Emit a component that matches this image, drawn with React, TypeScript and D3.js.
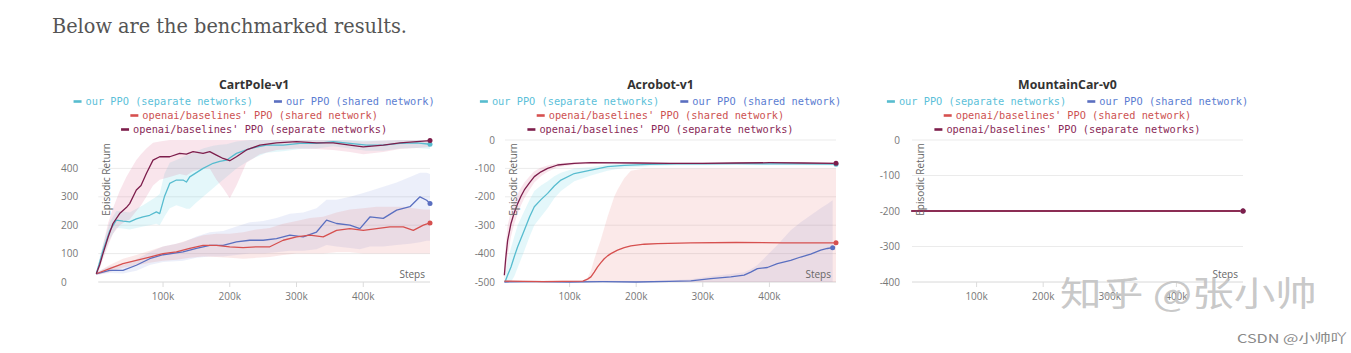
import React from "react";
import * as d3 from "d3";

// [step (k), mean, lower, upper]
type Pt = [number, number, number, number];

const legendLabels = [
  "our PPO (separate networks)",
  "our PPO (shared network)",
  "openai/baselines' PPO (shared network)",
  "openai/baselines' PPO (separate networks)",
];
const chartTitles = ["CartPole-v1", "Acrobot-v1", "MountainCar-v0"];
const xTicks = [100, 200, 300, 400];
const cartpoleYTicks = [0, 100, 200, 300, 400];
const acrobotYTicks = [0, -100, -200, -300, -400, -500];
const mountainYTicks = [0, -100, -200, -300, -400];

// ---------- CartPole-v1 ----------
const cpOurSep: Pt[] = [
  [0, 29, 25, 33], [5, 70, 55, 85], [10, 110, 90, 130], [20, 180, 150, 210], [30, 218, 190, 250],
  [40, 214, 188, 248], [50, 212, 185, 245], [60, 222, 190, 258], [70, 229, 195, 270], [80, 235, 200, 285],
  [90, 247, 205, 300], [95, 241, 200, 310], [102, 300, 230, 380], [110, 347, 260, 420], [120, 359, 270, 430],
  [130, 359, 262, 440], [135, 352, 258, 445], [140, 370, 258, 450], [150, 385, 280, 460], [160, 400, 300, 470],
  [175, 418, 330, 480], [185, 425, 350, 483], [195, 429, 370, 485], [210, 453, 400, 495], [230, 470, 430, 500],
  [255, 482, 455, 500], [280, 482, 460, 500], [305, 488, 468, 500], [330, 488, 470, 500], [355, 494, 478, 500],
  [380, 488, 470, 500], [405, 482, 462, 498], [430, 482, 462, 498], [455, 488, 470, 500], [480, 490, 472, 500],
  [500, 485, 468, 500],
];
const cpOurShared: Pt[] = [
  [0, 29, 25, 35], [20, 41, 32, 55], [40, 41, 30, 60], [60, 59, 40, 80], [80, 82, 60, 105],
  [100, 96, 70, 125], [130, 106, 75, 140], [150, 118, 85, 160], [170, 129, 90, 175], [190, 129, 90, 180],
  [210, 141, 95, 195], [230, 147, 100, 210], [250, 147, 100, 215], [270, 153, 105, 225], [290, 165, 110, 240],
  [310, 159, 110, 245], [330, 176, 115, 260], [345, 218, 130, 290], [360, 206, 125, 290], [380, 200, 120, 300],
  [395, 188, 115, 310], [410, 229, 125, 320], [430, 224, 125, 335], [450, 253, 130, 350], [470, 265, 135, 370],
  [485, 300, 140, 385], [495, 288, 145, 385], [500, 276, 145, 380],
];
const cpBaseShared: Pt[] = [
  [0, 29, 25, 33], [20, 47, 35, 60], [40, 65, 50, 82], [60, 76, 58, 95], [80, 88, 68, 110],
  [100, 100, 75, 125], [120, 106, 78, 135], [140, 118, 85, 150], [160, 129, 90, 165], [180, 129, 88, 170],
  [200, 124, 85, 170], [220, 121, 82, 175], [240, 124, 85, 185], [260, 124, 88, 190], [280, 147, 95, 205],
  [300, 159, 100, 215], [320, 165, 100, 225], [340, 159, 100, 230], [360, 182, 105, 245], [380, 188, 105, 255],
  [400, 182, 100, 260], [420, 188, 100, 265], [440, 194, 100, 265], [460, 194, 100, 265], [475, 182, 100, 260],
  [490, 200, 100, 255], [500, 208, 100, 255],
];
const cpBaseSep: Pt[] = [
  [0, 29, 25, 33], [5, 60, 45, 80], [10, 100, 80, 130], [18, 160, 130, 210], [25, 206, 170, 260],
  [35, 241, 200, 320], [45, 262, 215, 370], [50, 276, 220, 390], [60, 324, 250, 430], [67, 340, 270, 450],
  [75, 382, 300, 470], [85, 429, 340, 490], [95, 441, 360, 495], [110, 441, 370, 500], [125, 453, 380, 500],
  [135, 450, 375, 500], [145, 459, 390, 500], [160, 453, 400, 500], [170, 459, 400, 500], [180, 447, 360, 500],
  [190, 435, 330, 500], [200, 427, 295, 500], [210, 441, 340, 500], [225, 465, 420, 500], [245, 482, 450, 500],
  [270, 490, 465, 500], [300, 494, 470, 500], [330, 490, 468, 500], [355, 490, 465, 500], [380, 482, 458, 498],
  [400, 476, 450, 495], [430, 482, 458, 498], [455, 490, 468, 500], [480, 494, 472, 500], [500, 498, 475, 500],
];

// ---------- Acrobot-v1 ----------
const abOurSep: Pt[] = [
  [3, -500, -500, -490], [7, -475, -500, -420], [12, -447, -500, -380], [17, -410, -480, -340], [22, -376, -450, -300],
  [32, -318, -390, -250], [40, -270, -340, -210], [47, -235, -300, -180], [57, -210, -270, -160], [67, -188, -240, -145],
  [77, -162, -205, -128], [87, -141, -180, -115], [107, -118, -145, -100], [132, -106, -125, -95], [157, -94, -108, -86],
  [182, -89, -98, -83], [220, -86, -92, -81], [260, -84, -89, -80], [300, -84, -89, -80], [350, -83, -88, -79],
  [400, -84, -89, -80], [450, -84, -89, -80], [500, -85, -90, -81],
];
const abOurShared: Pt[] = [
  [2, -500, -500, -497], [50, -499, -500, -496], [100, -500, -500, -497], [150, -499, -500, -496], [200, -500, -500, -497],
  [250, -498, -500, -495], [282, -496, -500, -490], [312, -488, -500, -480], [342, -482, -500, -472], [362, -476, -500, -466],
  [372, -465, -500, -455], [382, -453, -500, -440], [397, -449, -500, -405], [412, -435, -500, -370], [432, -424, -500, -318],
  [447, -412, -500, -290], [462, -402, -500, -265], [477, -388, -500, -240], [487, -382, -500, -225], [495, -379, -500, -212],
];
const abBaseShared: Pt[] = [
  [2, -497, -500, -494], [30, -498, -500, -495], [60, -499, -500, -496], [90, -498, -500, -495], [120, -497, -500, -495],
  [127, -490, -500, -485], [132, -482, -500, -460], [137, -465, -500, -420], [142, -447, -500, -385], [147, -432, -500, -350],
  [152, -418, -500, -310], [157, -408, -500, -270], [162, -400, -500, -235], [167, -394, -500, -200], [172, -388, -500, -175],
  [182, -379, -500, -135], [192, -373, -500, -108], [212, -367, -500, -100], [232, -365, -500, -100], [282, -362, -500, -100],
  [350, -361, -500, -100], [420, -362, -500, -100], [500, -362, -500, -100],
];
const abBaseSep: Pt[] = [
  [2, -476, -495, -450], [4, -420, -470, -370], [7, -353, -410, -300], [12, -294, -340, -250], [17, -255, -295, -215],
  [22, -224, -260, -190], [27, -198, -230, -168], [32, -176, -205, -150], [40, -150, -175, -128], [47, -129, -150, -110],
  [57, -112, -128, -97], [67, -100, -112, -90], [82, -88, -96, -82], [107, -82, -87, -78], [132, -80, -84, -77],
  [200, -81, -84, -78], [250, -82, -85, -79], [300, -82, -85, -79], [350, -81, -84, -78], [400, -80, -83, -77],
  [450, -81, -84, -78], [500, -82, -85, -79],
];

// ---------- MountainCar-v0 ----------
const mcOurSep: Pt[] = [[2, -200, -200, -200], [500, -200, -200, -200]];
const mcOurShared: Pt[] = [[2, -200, -200, -200], [500, -200, -200, -200]];
const mcBaseShared: Pt[] = [[2, -200, -200, -200], [500, -200, -200, -200]];
const mcBaseSep: Pt[] = [[2, -200, -200, -200], [500, -200, -200, -200]];

// ---------- styling ----------
const LINE_COLORS = ["#57bccf", "#5a6fc0", "#d6504f", "#7d1e4c"];
const BAND_COLORS = ["#5fcfe2", "#6f86d8", "#e46a6a", "#d4507f"];
const BAND_OPACITY = [0.17, 0.13, 0.15, 0.15];
const TEXT_COLORS = ["#5cbfd9", "#5b7dd1", "#cd5252", "#8a2a58"];
const PLOT_TOP = 140;
const PLOT_BOTTOM = 282;
const MONO = "'DejaVu Sans Mono', 'Liberation Mono', monospace";
const SANS = "'Open Sans', 'Noto Sans', sans-serif";
const CHAR_W = 6.2;

function Legend({ cx }: { cx: number }) {
  const w = (i: number) => 12 + legendLabels[i].length * CHAR_W;
  const item = (i: number, x: number, y: number) => (
    <g key={i}>
      <line x1={x} x2={x + 8} y1={y} y2={y} stroke={LINE_COLORS[i]} strokeWidth={2.6} />
      <text x={x + 12} y={y + 3.5} fontFamily={MONO} fontSize={10.3} fill={TEXT_COLORS[i]}>
        {legendLabels[i]}
      </text>
    </g>
  );
  const row1W = w(0) + 21 + w(1);
  const s1 = cx - row1W / 2;
  return (
    <g>
      {item(0, s1, 101.5)}
      {item(1, s1 + w(0) + 21, 101.5)}
      {item(2, cx - w(2) / 2, 115.5)}
      {item(3, cx - w(3) / 2, 129.5)}
    </g>
  );
}

type PanelProps = {
  title: string;
  x0: number;
  x1: number;
  yDomain: [number, number];
  yTicks: number[];
  tickAnchor: "start" | "end";
  tickX: number;
  series: Pt[][];
};

function Panel({ title, x0, x1, yDomain, yTicks, tickAnchor, tickX, series }: PanelProps) {
  const x = d3.scaleLinear().domain([0, 500]).range([x0, x1]);
  const y = d3.scaleLinear().domain(yDomain).range([PLOT_BOTTOM, PLOT_TOP]);
  const line = d3.line<Pt>().x((d) => x(d[0])).y((d) => y(d[1]));
  const area = d3.area<Pt>().x((d) => x(d[0])).y0((d) => y(d[2])).y1((d) => y(d[3]));
  const cx = (x0 + x1) / 2 - 9;
  return (
    <g>
      <text x={cx} y={89} textAnchor="middle" fontFamily={SANS} fontWeight={700} fontSize={12.3} fill="#333">
        {title}
      </text>
      <Legend cx={cx} />
      {yTicks.map((t) => (
        <g key={t}>
          <line x1={x0 + 2} x2={x1} y1={y(t)} y2={y(t)} stroke="#ebebeb" strokeWidth={1} />
          <text x={tickX} y={y(t)} dy="0.35em" textAnchor={tickAnchor} fontFamily={SANS} fontSize={10} fill="#777">
            {t}
          </text>
        </g>
      ))}
      <line x1={x0 + 2} x2={x1} y1={PLOT_BOTTOM} y2={PLOT_BOTTOM} stroke="#e2e2e2" strokeWidth={1} />
      {xTicks.map((t) => (
        <g key={t}>
          <line x1={x(t)} x2={x(t)} y1={PLOT_BOTTOM} y2={PLOT_BOTTOM + 5} stroke="#dcdcdc" strokeWidth={1} />
          <text x={x(t)} y={300} textAnchor="middle" fontFamily={SANS} fontSize={10} fill="#777">
            {`${t}k`}
          </text>
        </g>
      ))}
      {series.map((s, i) => (
        <path key={`a${i}`} d={area(s) || ""} fill={BAND_COLORS[i]} fillOpacity={BAND_OPACITY[i]} stroke="none" />
      ))}
      {series.map((s, i) => (
        <path key={`l${i}`} d={line(s) || ""} fill="none" stroke={LINE_COLORS[i]} strokeWidth={1.3} strokeLinejoin="round" />
      ))}
      {series.map((s, i) => {
        const last = s[s.length - 1];
        return <circle key={`c${i}`} cx={x(last[0])} cy={y(last[1])} r={2.5} fill={LINE_COLORS[i]} />;
      })}
      <text
        transform={`translate(${x0 + 14},143) rotate(-90)`}
        textAnchor="end"
        fontFamily={SANS}
        fontSize={10}
        fill="#666"
      >
        Episodic Return
      </text>
      <text x={x1 - 5} y={278} textAnchor="end" fontFamily={SANS} fontSize={10} fill="#666">
        Steps
      </text>
    </g>
  );
}

export default function App() {
  return (
    <div style={{ position: "absolute", left: 0, top: 0 }}>
      <svg width={1351} height={353} viewBox="0 0 1351 353" style={{ display: "block", background: "#fff" }}>
        <rect x={0} y={0} width={1351} height={353} fill="#fff" />
        <text x={52} y={33} fontFamily="'DejaVu Serif', 'Liberation Serif', serif" fontSize={21} fill="#555" textLength={355} lengthAdjust="spacingAndGlyphs">
          Below are the benchmarked results.
        </text>
        <Panel
          title={chartTitles[0]}
          x0={96.3}
          x1={430}
          yDomain={[0, 500]}
          yTicks={cartpoleYTicks}
          tickAnchor="start"
          tickX={61}
          series={[cpOurSep, cpOurShared, cpBaseShared, cpBaseSep]}
        />
        <Panel
          title={chartTitles[1]}
          x0={503}
          x1={836}
          yDomain={[-500, 0]}
          yTicks={acrobotYTicks}
          tickAnchor="end"
          tickX={495}
          series={[abOurSep, abOurShared, abBaseShared, abBaseSep]}
        />
        <Panel
          title={chartTitles[2]}
          x0={910}
          x1={1243}
          yDomain={[-400, 0]}
          yTicks={mountainYTicks}
          tickAnchor="end"
          tickX={900}
          series={[mcOurSep, mcOurShared, mcBaseShared, mcBaseSep]}
        />
        <text x={1060} y={306} fontFamily="'Noto Sans CJK SC', sans-serif" fontSize={34} fill="#c2c2c2" fillOpacity={0.9} textLength={257} lengthAdjust="spacingAndGlyphs">
          知乎 @张小帅
        </text>
        <text x={1237} y={343} fontFamily="'Noto Sans CJK SC', sans-serif" fontSize={12} fill="#8a8a8a" textLength={110} lengthAdjust="spacingAndGlyphs">
          CSDN @小帅吖
        </text>
      </svg>
    </div>
  );
}
